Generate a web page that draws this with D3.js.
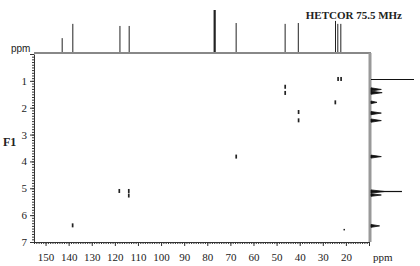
<!DOCTYPE html>
<html>
<head>
<meta charset="utf-8">
<script src="https://cdn.jsdelivr.net/npm/d3@7/dist/d3.min.js"></script>
<style>
  body { margin: 0; background: #fff; }
  svg { display: block; }
  .tick text { font-family: "Liberation Serif", "DejaVu Serif", serif; font-size: 11px; fill: #222; }
  .domain { stroke: #333; }
  .tick line { stroke: #333; }
</style>
</head>
<body>
<div id="chart"></div>
<script>
// 13C spectrum on top (ppm, intensity)
var carbonPpm = [142.8, 138.2, 117.8, 113.8, 76.8, 67.5, 46.3, 40.6, 24.5, 23.5, 22.2];
var carbonInt = [33, 67, 62, 62, 100, 69, 67, 69, 74, 67, 67];

// 1H spectrum on the right (ppm, intensity, multiplet width in ppm)
var protonPpm = [0.95, 1.32, 1.44, 1.8, 2.2, 2.48, 3.82, 5.12, 5.12, 5.25, 6.4];
var protonInt = [100, 24, 26, 14, 24, 24, 24, 72, 32, 24, 20];
var protonWid = [0.02, 0.12, 0.12, 0.1, 0.12, 0.12, 0.11, 0.02, 0.12, 0.1, 0.11];

// cross peaks (13C ppm, 1H ppm)
var crossC = [138.3, 118.1, 114.0, 114.0, 67.5, 46.3, 46.3, 40.5, 40.5, 24.6, 23.4, 22.1, 20.7];
var crossH = [6.38, 5.1, 5.1, 5.27, 3.82, 1.22, 1.45, 2.16, 2.47, 1.8, 0.93, 0.93, 6.55];

var xTicks = [150, 140, 130, 120, 110, 100, 90, 80, 70, 60, 50, 40, 30, 20];
var yTicks = [1, 2, 3, 4, 5, 6, 7];

var W = 420, H = 266;
var plotLeft = 34, plotRight = 369, plotTop = 54, plotBottom = 242;

var svg = d3.select("#chart").append("svg")
    .attr("width", W)
    .attr("height", H);

var x = d3.scaleLinear().domain([155, 10]).range([plotLeft, plotRight]);
var y = d3.scaleLinear().domain([0, 7]).range([plotTop, plotBottom]);
var cInt = d3.scaleLinear().domain([0, 100]).range([0, 42]);
var hInt = d3.scaleLinear().domain([0, 100]).range([0, 43]);

//bottom axis, minor then major
svg.append("g")
    .attr("transform", "translate(0," + plotBottom + ")")
    .call(d3.axisBottom(x).tickValues(d3.range(10, 156, 1)).tickSize(2).tickFormat(""))
    .call(function(g){ g.select(".domain").remove(); });
svg.append("g")
    .attr("transform", "translate(0," + plotBottom + ")")
    .call(d3.axisBottom(x).tickValues(xTicks.concat([10])).tickSize(4).tickSizeOuter(0)
      .tickFormat(function(d){ return d == 10 ? "" : d; }))
    .call(function(g){ g.selectAll("text").attr("dy", "1.05em"); });

//left axis
svg.append("g")
    .attr("transform", "translate(" + plotLeft + ",0)")
    .call(d3.axisLeft(y).tickValues(d3.range(0, 7.01, 0.1)).tickSize(2).tickFormat(""))
    .call(function(g){ g.select(".domain").remove(); });
svg.append("g")
    .attr("transform", "translate(" + plotLeft + ",0)")
    .call(d3.axisLeft(y).tickValues([0].concat(yTicks)).tickSize(4).tickSizeOuter(0)
      .tickFormat(function(d){ return d == 0 ? "" : d; }));

// projection baselines
svg.append("line")
    .attr("x1", plotLeft).attr("x2", plotRight + 2)
    .attr("y1", plotTop - 1).attr("y2", plotTop - 1)
    .attr("stroke", "#888").attr("stroke-width", 2);
svg.append("line")
    .attr("x1", plotRight + 1).attr("x2", plotRight + 1)
    .attr("y1", plotTop - 1).attr("y2", plotBottom)
    .attr("stroke", "#999").attr("stroke-width", 3);

// 13C spectrum
svg.append("g").selectAll("line")
    .data(carbonPpm)
  .enter().append("line")
    .attr("x1", function(d){ return x(d); })
    .attr("x2", function(d){ return x(d); })
    .attr("y1", plotTop - 2)
    .attr("y2", function(d, i){ return plotTop - 2 - cInt(carbonInt[i]); })
    .attr("stroke", "#222")
    .attr("stroke-width", function(d, i){ return carbonInt[i] == 100 ? 2.2 : 1; });

// 1H spectrum, multiplets as wedges
var base = plotRight + 2;
svg.append("g").selectAll("path")
    .data(protonPpm)
  .enter().append("path")
    .attr("d", function(d, i){
      var w = protonWid[i] / 2;
      if (protonWid[i] < 0.05) {
        return "M" + base + "," + y(d) + "H" + (base + hInt(protonInt[i]));
      }
      return "M" + base + "," + y(d - w) +
        "L" + (base + hInt(protonInt[i])) + "," + y(d) +
        "L" + base + "," + y(d + w) + "Z";
    })
    .attr("fill", "#111")
    .attr("stroke", "#111")
    .attr("stroke-width", function(d, i){ return protonWid[i] < 0.05 ? 1.2 : 0.8; });

// cross peaks
svg.append("g").selectAll("rect")
    .data(crossC)
  .enter().append("rect")
    .attr("x", function(d){ return x(d) - 0.8; })
    .attr("y", function(d, i){ return y(crossH[i]) - (i == 12 ? 1 : 2); })
    .attr("width", function(d, i){ return i == 12 ? 1.5 : 1.7; })
    .attr("height", function(d, i){ return i == 12 ? 1.5 : 4; })
    .attr("fill", "#222");

// labels
svg.append("text")
    .attr("x", 402).attr("y", 19)
    .attr("text-anchor", "end")
    .style("font-family", "Liberation Serif, serif")
    .style("font-weight", "bold")
    .style("font-size", "11px")
    .attr("fill", "#222")
    .text("HETCOR 75.5 MHz");

svg.append("text")
    .attr("x", 11).attr("y", 52)
    .style("font-family", "Liberation Sans, sans-serif")
    .style("font-size", "10px")
    .attr("fill", "#222")
    .text("ppm");

svg.append("text")
    .attr("x", 3).attr("y", 146)
    .style("font-family", "Liberation Serif, serif")
    .style("font-weight", "bold")
    .style("font-size", "12px")
    .attr("fill", "#222")
    .text("F1");

svg.append("text")
    .attr("x", 373).attr("y", 261)
    .style("font-family", "Liberation Serif, serif")
    .style("font-size", "11px")
    .attr("fill", "#222")
    .text("ppm");
</script>
</body>
</html>
